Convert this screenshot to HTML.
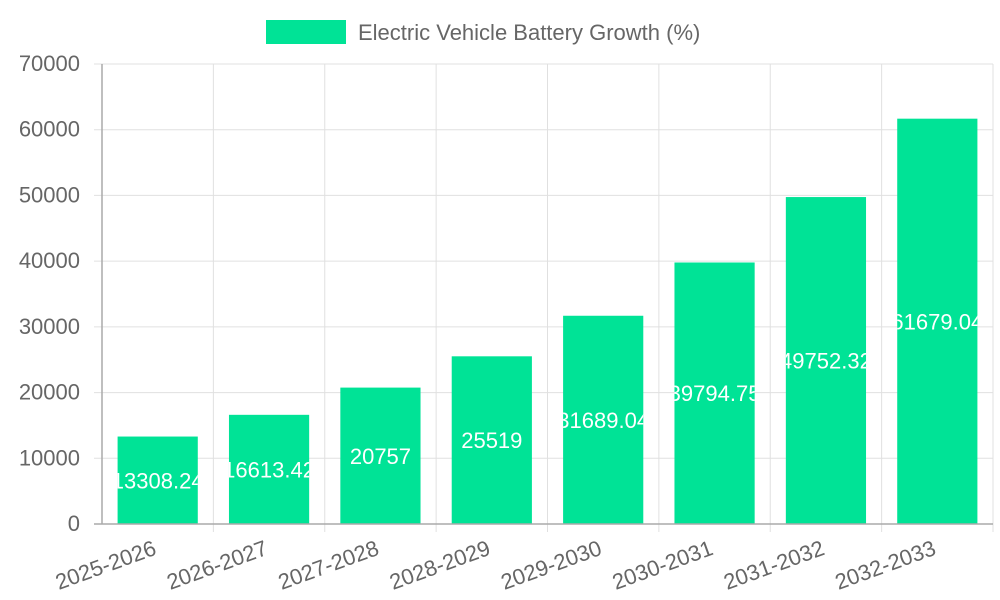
<!DOCTYPE html>
<html><head><meta charset="utf-8"><style>
body{margin:0;background:#fff;}
svg{font-family:"Liberation Sans",sans-serif;display:block}
</style></head><body>
<svg id="chart" width="1000" height="600">
<g id="legend">
<rect x="266" y="20" width="80" height="24" fill="#00e396"/>
<text x="358" y="40" font-size="22" fill="#666">Electric Vehicle Battery Growth (%)</text>
</g>
<g id="grid"></g><g id="bars"></g><g id="axes"></g>
<defs id="defs"></defs>
</svg>
<script>
const categories=["2025-2026","2026-2027","2027-2028","2028-2029","2029-2030","2030-2031","2031-2032","2032-2033"];
const values=[13308.24,16613.42,20757,25519,31689.04,39794.75,49752.32,61679.04];
const yTicks=[0,10000,20000,30000,40000,50000,60000,70000];
const NS="http://www.w3.org/2000/svg";
const L=102,R=993,T=64,B=524,yMax=70000;
const bw=(R-L)/categories.length;
const y=v=>B-(v/yMax)*(B-T);
const x=i=>L+i*bw;
function mk(tag,attrs,parent){const e=document.createElementNS(NS,tag);for(const k in attrs)e.setAttribute(k,attrs[k]);parent.appendChild(e);return e;}
const grid=document.getElementById('grid'),bars=document.getElementById('bars'),axes=document.getElementById('axes'),defs=document.getElementById('defs');
yTicks.forEach(t=>{
 const l=mk('line',{x1:L-8,x2:R,y1:y(t),y2:y(t),stroke:'#e0e0e0','stroke-width':1},grid);
 
 
 const tx=mk('text',{x:L-22,y:y(t)+7,'text-anchor':'end','font-size':22,fill:'#666'},axes);
 tx.textContent=t;
 
 
});
for(let i=1;i<=categories.length;i++){
 const l=mk('line',{x1:x(i),x2:x(i),y1:T,y2:B+8,stroke:'#e0e0e0','stroke-width':1},grid);
 
 
}
const ya=mk('line',{x1:L,x2:L,y1:T,y2:B,stroke:'#aaa','stroke-width':1.5},axes);


const xa=mk('line',{x1:L-8,x2:R,y1:B,y2:B,stroke:'#aaa','stroke-width':1.5},axes);


categories.forEach((c,i)=>{
 const bx=x(i)+bw*0.14,w=bw*0.72,by=y(values[i]);
 const cp=mk('clipPath',{id:'cp'+i},defs);
 mk('rect',{x:bx,y:by,width:w,height:B-by},cp);
 const r=mk('rect',{x:bx,y:by,width:w,height:B-by,fill:'#00e396'},bars);
 
 
 const vt=mk('text',{x:bx+w/2,y:(by+B)/2+8,'text-anchor':'middle','font-size':22,fill:'#fff','clip-path':'url(#cp'+i+')'},bars);
 vt.textContent=values[i];
 
 
 const cx=x(i)+bw/2;
 const lt=mk('text',{x:cx,y:B+30,'text-anchor':'end','font-size':22,fill:'#666',transform:'rotate(-20 '+cx+' '+(B+30)+')'},axes);
 lt.textContent=c;
 
 
});
</script>
</body></html>
